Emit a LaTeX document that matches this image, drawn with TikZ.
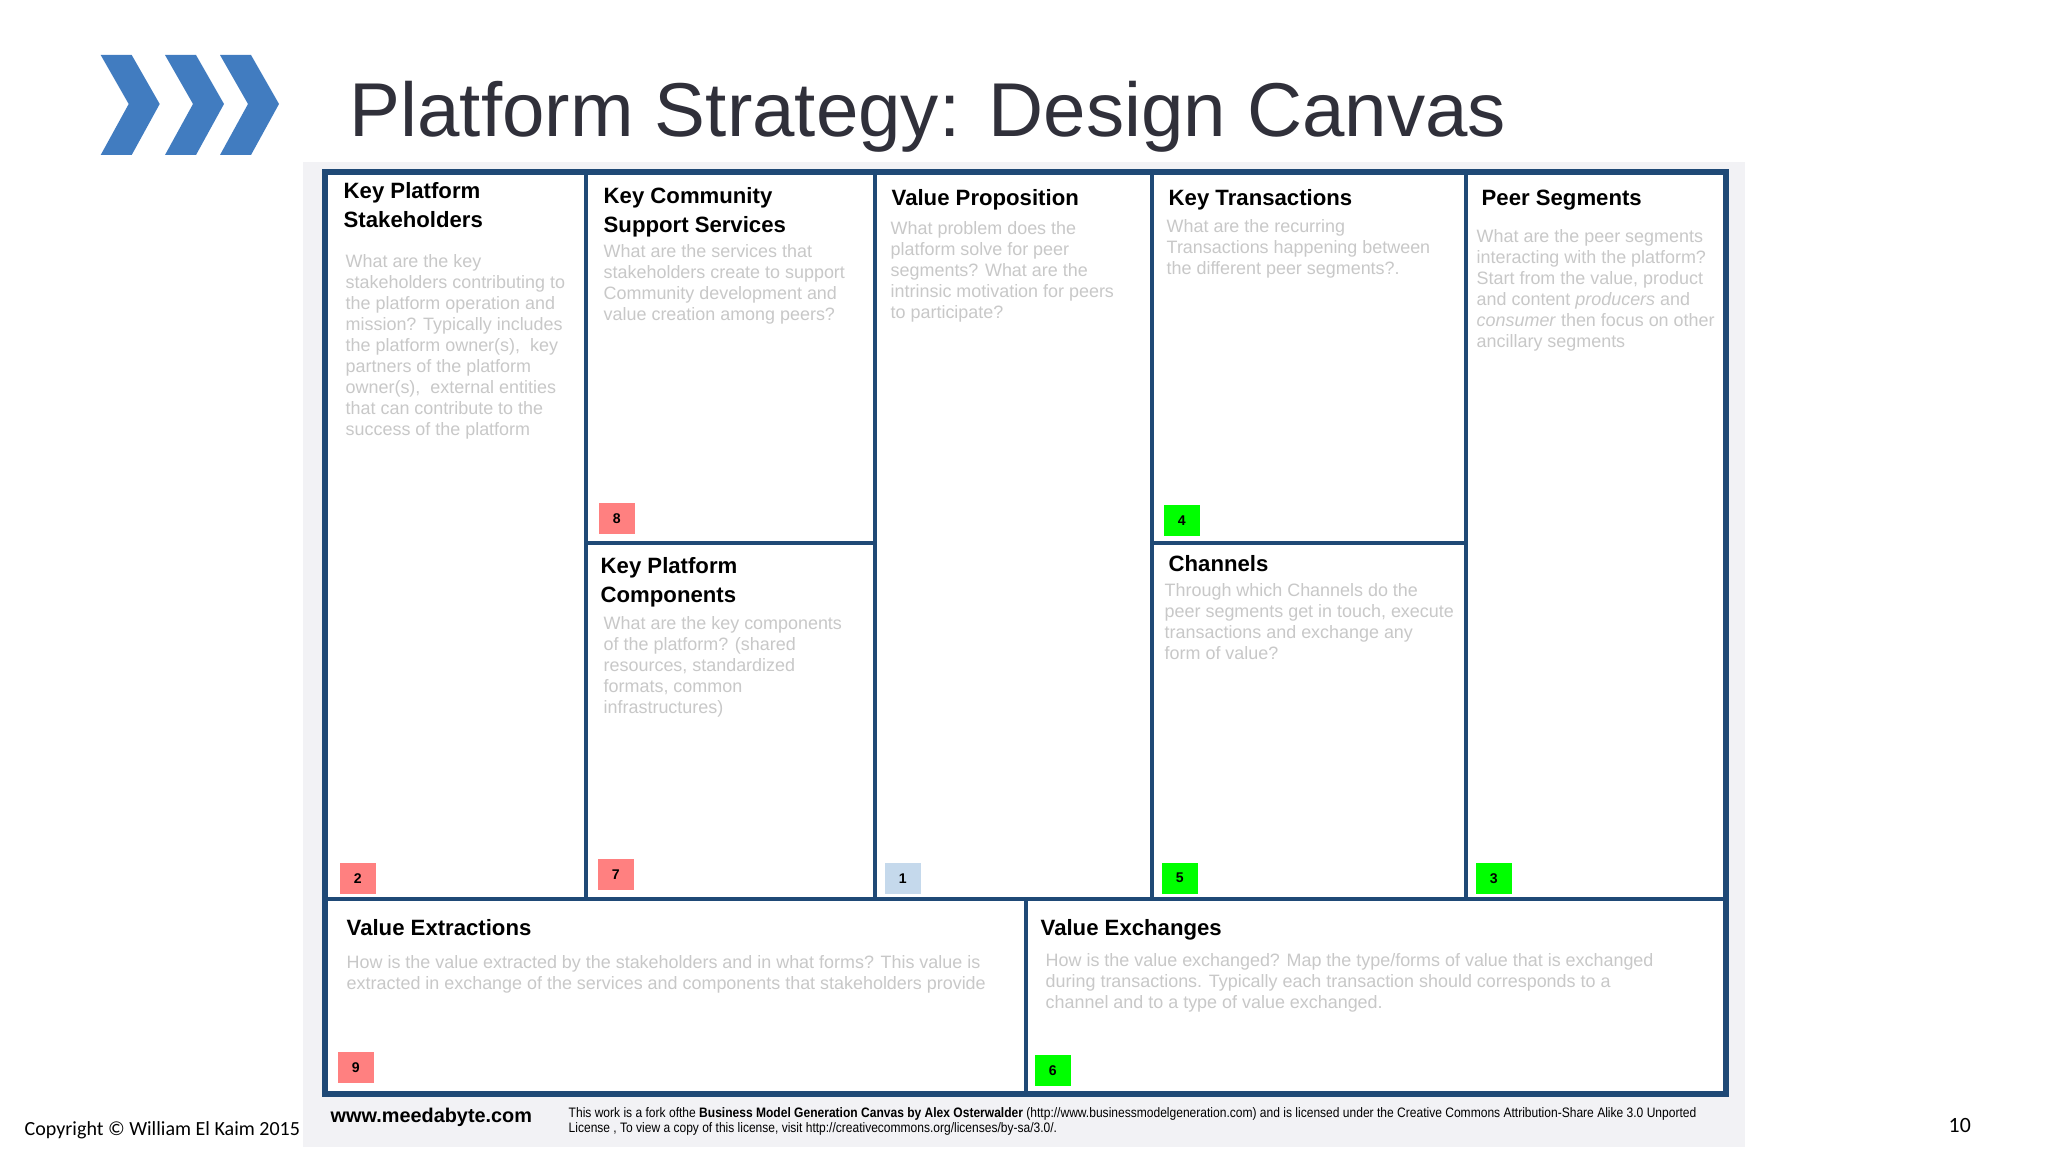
\documentclass[tikz,border=0pt]{standalone}
\usepackage{fontspec}
\setmainfont{Liberation Sans}
\newfontfamily\calibrifont{Carlito}
\usetikzlibrary{positioning}

\definecolor{navy}{RGB}{31,73,118}
\definecolor{chevblue}{RGB}{65,124,192}
\definecolor{titlegray}{RGB}{48,48,58}
\definecolor{panelgray}{RGB}{242,242,245}
\definecolor{descgray}{RGB}{200,200,200}
\definecolor{badgered}{RGB}{255,128,128}
\definecolor{badgegreen}{RGB}{0,255,0}
\definecolor{badgeblue}{RGB}{197,217,236}

\tikzset{
  head/.style={anchor=north west, inner sep=0pt, align=left, font=\bfseries\fontsize{6.3pt}{8.05pt}\selectfont},
  desc/.style={anchor=north west, inner sep=0pt, align=left, text=descgray, font=\fontsize{5.1pt}{5.98pt}\selectfont},
  badge/.style={anchor=north west, inner sep=0pt, minimum width=0.36cm, minimum height=0.31cm, font=\bfseries\fontsize{4pt}{4pt}\selectfont},
  cell/.style={draw=navy, line width=0.9pt}
}

\begin{document}
\begin{tikzpicture}[x=0.01cm, y=-0.01cm]
\useasboundingbox (0,0) rectangle (2048,1152);
\fill[white] (0,0) rectangle (2048,1152);

% chevrons
\foreach \cx in {100.7,165,220} {
    \fill[chevblue] (\cx,55) -- ++(31,0) -- ++(28,49) -- ++(-28,51) -- ++(-31,0) -- ++(28,-51) -- cycle;
}
\node[anchor=base west, inner sep=0pt, text=titlegray, font=\fontsize{21.7pt}{26pt}\selectfont] (title) at (349,137) {Platform Strategy: Design Canvas};

% canvas frame and cells
\fill[panelgray] (303,162) rectangle (1745,1147);
\fill[white] (325,172) rectangle (1726,1094);
\draw[cell] (586,172) -- (586,899);
\draw[cell] (875,172) -- (875,899);
\draw[cell] (1152,172) -- (1152,899);
\draw[cell] (1466,172) -- (1466,899);
\draw[cell] (325,899) -- (1726,899);
\draw[cell] (586,543) -- (875,543);
\draw[cell] (1152,543) -- (1466,543);
\draw[cell] (1026,899) -- (1026,1094);
\draw[navy, line width=1.6pt] (325,172) rectangle (1726,1094);

% headings
\node[head] (stakeholders) at (343,182) {Key Platform\\Stakeholders};
\node[head] (services) at (603,187) {Key Community\\Support Services};
\node[head] (proposition) at (891,189) {Value Proposition};
\node[head] (transactions) at (1168,189) {Key Transactions};
\node[head] (segments) at (1481,189) {Peer Segments};
\node[head] (components) at (600,557) {Key Platform\\Components};
\node[head] (channels) at (1168,555) {Channels};
\node[head] (extractions) at (346,919) {Value Extractions};
\node[head] (exchanges) at (1040,919) {Value Exchanges};

% questions
\node[desc] (stakeholdersq) at (345,254) {What are the key\\stakeholders contributing to\\the platform operation and\\mission? Typically includes\\the platform owner(s),\ \ key\\partners of the platform\\owner(s),\ \ external entities\\that can contribute to the\\success of the platform};
\node[desc] (servicesq) at (603,244) {What are the services that\\stakeholders create to support\\Community development and\\value creation among peers?};
\node[desc] (propositionq) at (890,221) {What problem does the\\platform solve for peer\\segments? What are the\\intrinsic motivation for peers\\to participate?};
\node[desc] (transactionsq) at (1166,219) {What are the recurring\\Transactions happening between\\the different peer segments?.};
\node[desc] (segmentsq) at (1476,229) {What are the peer segments\\interacting with the platform?\\Start from the value, product\\and content \textit{producers} and\\\textit{consumer} then focus on other\\ancillary segments};
\node[desc] (componentsq) at (603,616) {What are the key components\\of the platform? (shared\\resources, standardized\\formats, common\\infrastructures)};
\node[desc] (channelsq) at (1164,583) {Through which Channels do the\\peer segments get in touch, execute\\transactions and exchange any\\form of value?};
\node[desc] (extractionsq) at (346,955) {How is the value extracted by the stakeholders and in what forms? This value is\\extracted in exchange of the services and components that stakeholders provide};
\node[desc] (exchangesq) at (1045,953) {How is the value exchanged? Map the type/forms of value that is exchanged\\during transactions. Typically each transaction should corresponds to a\\channel and to a type of value exchanged.};

% numbered tags
\foreach \num/\x/\y/\col in {1/884/862/badgeblue, 2/339/862/badgered, 3/1475/862/badgegreen,
    4/1163/504/badgegreen, 5/1161/862/badgegreen, 6/1034/1054/badgegreen,
    7/597/858/badgered, 8/598/502/badgered, 9/337/1051/badgered} {
    \node[badge, fill=\col] (tag\num) at (\x,\y) {\num};
}

% footer
\node[anchor=base west, inner sep=0pt, font=\bfseries\fontsize{5.65pt}{6pt}\selectfont] (site) at (330,1122) {www.meedabyte.com};
\node[anchor=base west, inner sep=0pt, font=\fontsize{3.9pt}{4pt}\selectfont] (license1) at (568,1117) {\resizebox{11.27cm}{\height}{This work is a fork ofthe \textbf{Business Model Generation Canvas by Alex Osterwalder} (http://www.businessmodelgeneration.com) and is licensed under the Creative Commons Attribution-Share Alike 3.0 Unported}};
\node[anchor=base west, inner sep=0pt, font=\fontsize{3.9pt}{4pt}\selectfont] (license2) at (568,1132) {\resizebox{4.88cm}{\height}{License , To view a copy of this license, visit http://creativecommons.org/licenses/by-sa/3.0/.}};
\node[anchor=base west, inner sep=0pt, font=\calibrifont\fontsize{5.7pt}{6pt}\selectfont] (copyright) at (24,1135) {Copyright © William El Kaim 2015};
\node[anchor=base west, inner sep=0pt, font=\calibrifont\fontsize{6.2pt}{7pt}\selectfont] (pagenum) at (1948,1132) {10};
\end{tikzpicture}
\end{document}
